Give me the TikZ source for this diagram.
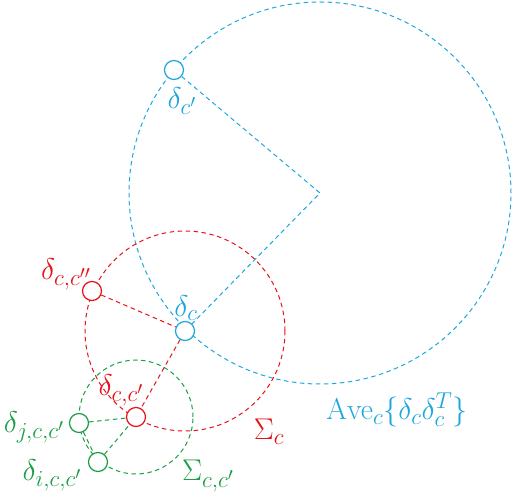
\RequirePackage{fix-cm}
\documentclass[tikz,border=0pt]{standalone}
\usetikzlibrary{backgrounds}
\DeclareMathSizes{30}{30}{23}{18}
\definecolor{cblue}{RGB}{28,167,223}
\definecolor{cred}{RGB}{230,18,26}
\definecolor{cgreen}{RGB}{26,158,70}
\tikzset{
  dline/.style={dashed, dash pattern=on 4.5pt off 3.5pt, line width=1pt},
  pt/.style={circle, draw, fill=white, minimum size=19pt, inner sep=0pt, line width=1.2pt},
  lbl/.style={inner sep=0pt, font=\fontsize{30}{34}\selectfont},
}
\begin{document}
\begin{tikzpicture}[x=1pt,y=1pt]
\useasboundingbox (0,0) rectangle (517,-494);
% points
\coordinate (bc) at (320,-193);
\node[pt, draw=cblue] (dcp) at (174,-70) {};
\node[pt, draw=cblue] (dc) at (185,-331) {};
\node[pt, draw=cred] (dcc2) at (92,-291) {};
\node[pt, draw=cred] (dcc1) at (136,-417) {};
\node[pt, draw=cgreen] (dj) at (79,-423) {};
\node[pt, draw=cgreen] (di) at (98,-462) {};
\begin{pgfonlayer}{background}
\draw[dline, cblue] (bc) circle (191);
\draw[dline, cred] (dc.center) circle (100);
\draw[dline, cgreen] (dcc1.center) circle (57);
\end{pgfonlayer}
% connectors
\draw[dline, cblue] (dcp) -- (bc) -- (dc);
\draw[dline, cred] (dcc2) -- (dc);
\draw[dline, cred] (dc) -- (dcc1);
\draw[dline, cgreen] (dj) -- (dcc1);
\draw[dline, cgreen] (di) -- (dcc1);
\draw[dline, cgreen] (dj) -- (di);
% labels
\node[lbl, text=cblue] (ldcp) at (182,-101) {$\delta_{c'}$};
\node[lbl, text=cblue] (ldc) at (186,-308) {$\delta_c$};
\node[lbl, text=cred] (ldcc2) at (66,-274) {$\delta_{c,c''}$};
\node[lbl, text=cred] (ldcc1) at (121,-390) {$\delta_{c,c'}$};
\node[lbl, text=cgreen] (ldj) at (34,-427) {$\delta_{j,c,c'}$};
\node[lbl, text=cgreen] (ldi) at (52,-475) {$\delta_{i,c,c'}$};
\node[lbl, text=cgreen] (lsig2) at (208,-476) {$\Sigma_{c,c'}$};
\node[lbl, text=cred] (lsig) at (269,-432) {$\Sigma_c$};
\node[lbl, text=cblue] (lave) at (397,-410) {$\mathrm{Ave}_c\{\delta_c\delta_c^T\}$};
\end{tikzpicture}
\end{document}
